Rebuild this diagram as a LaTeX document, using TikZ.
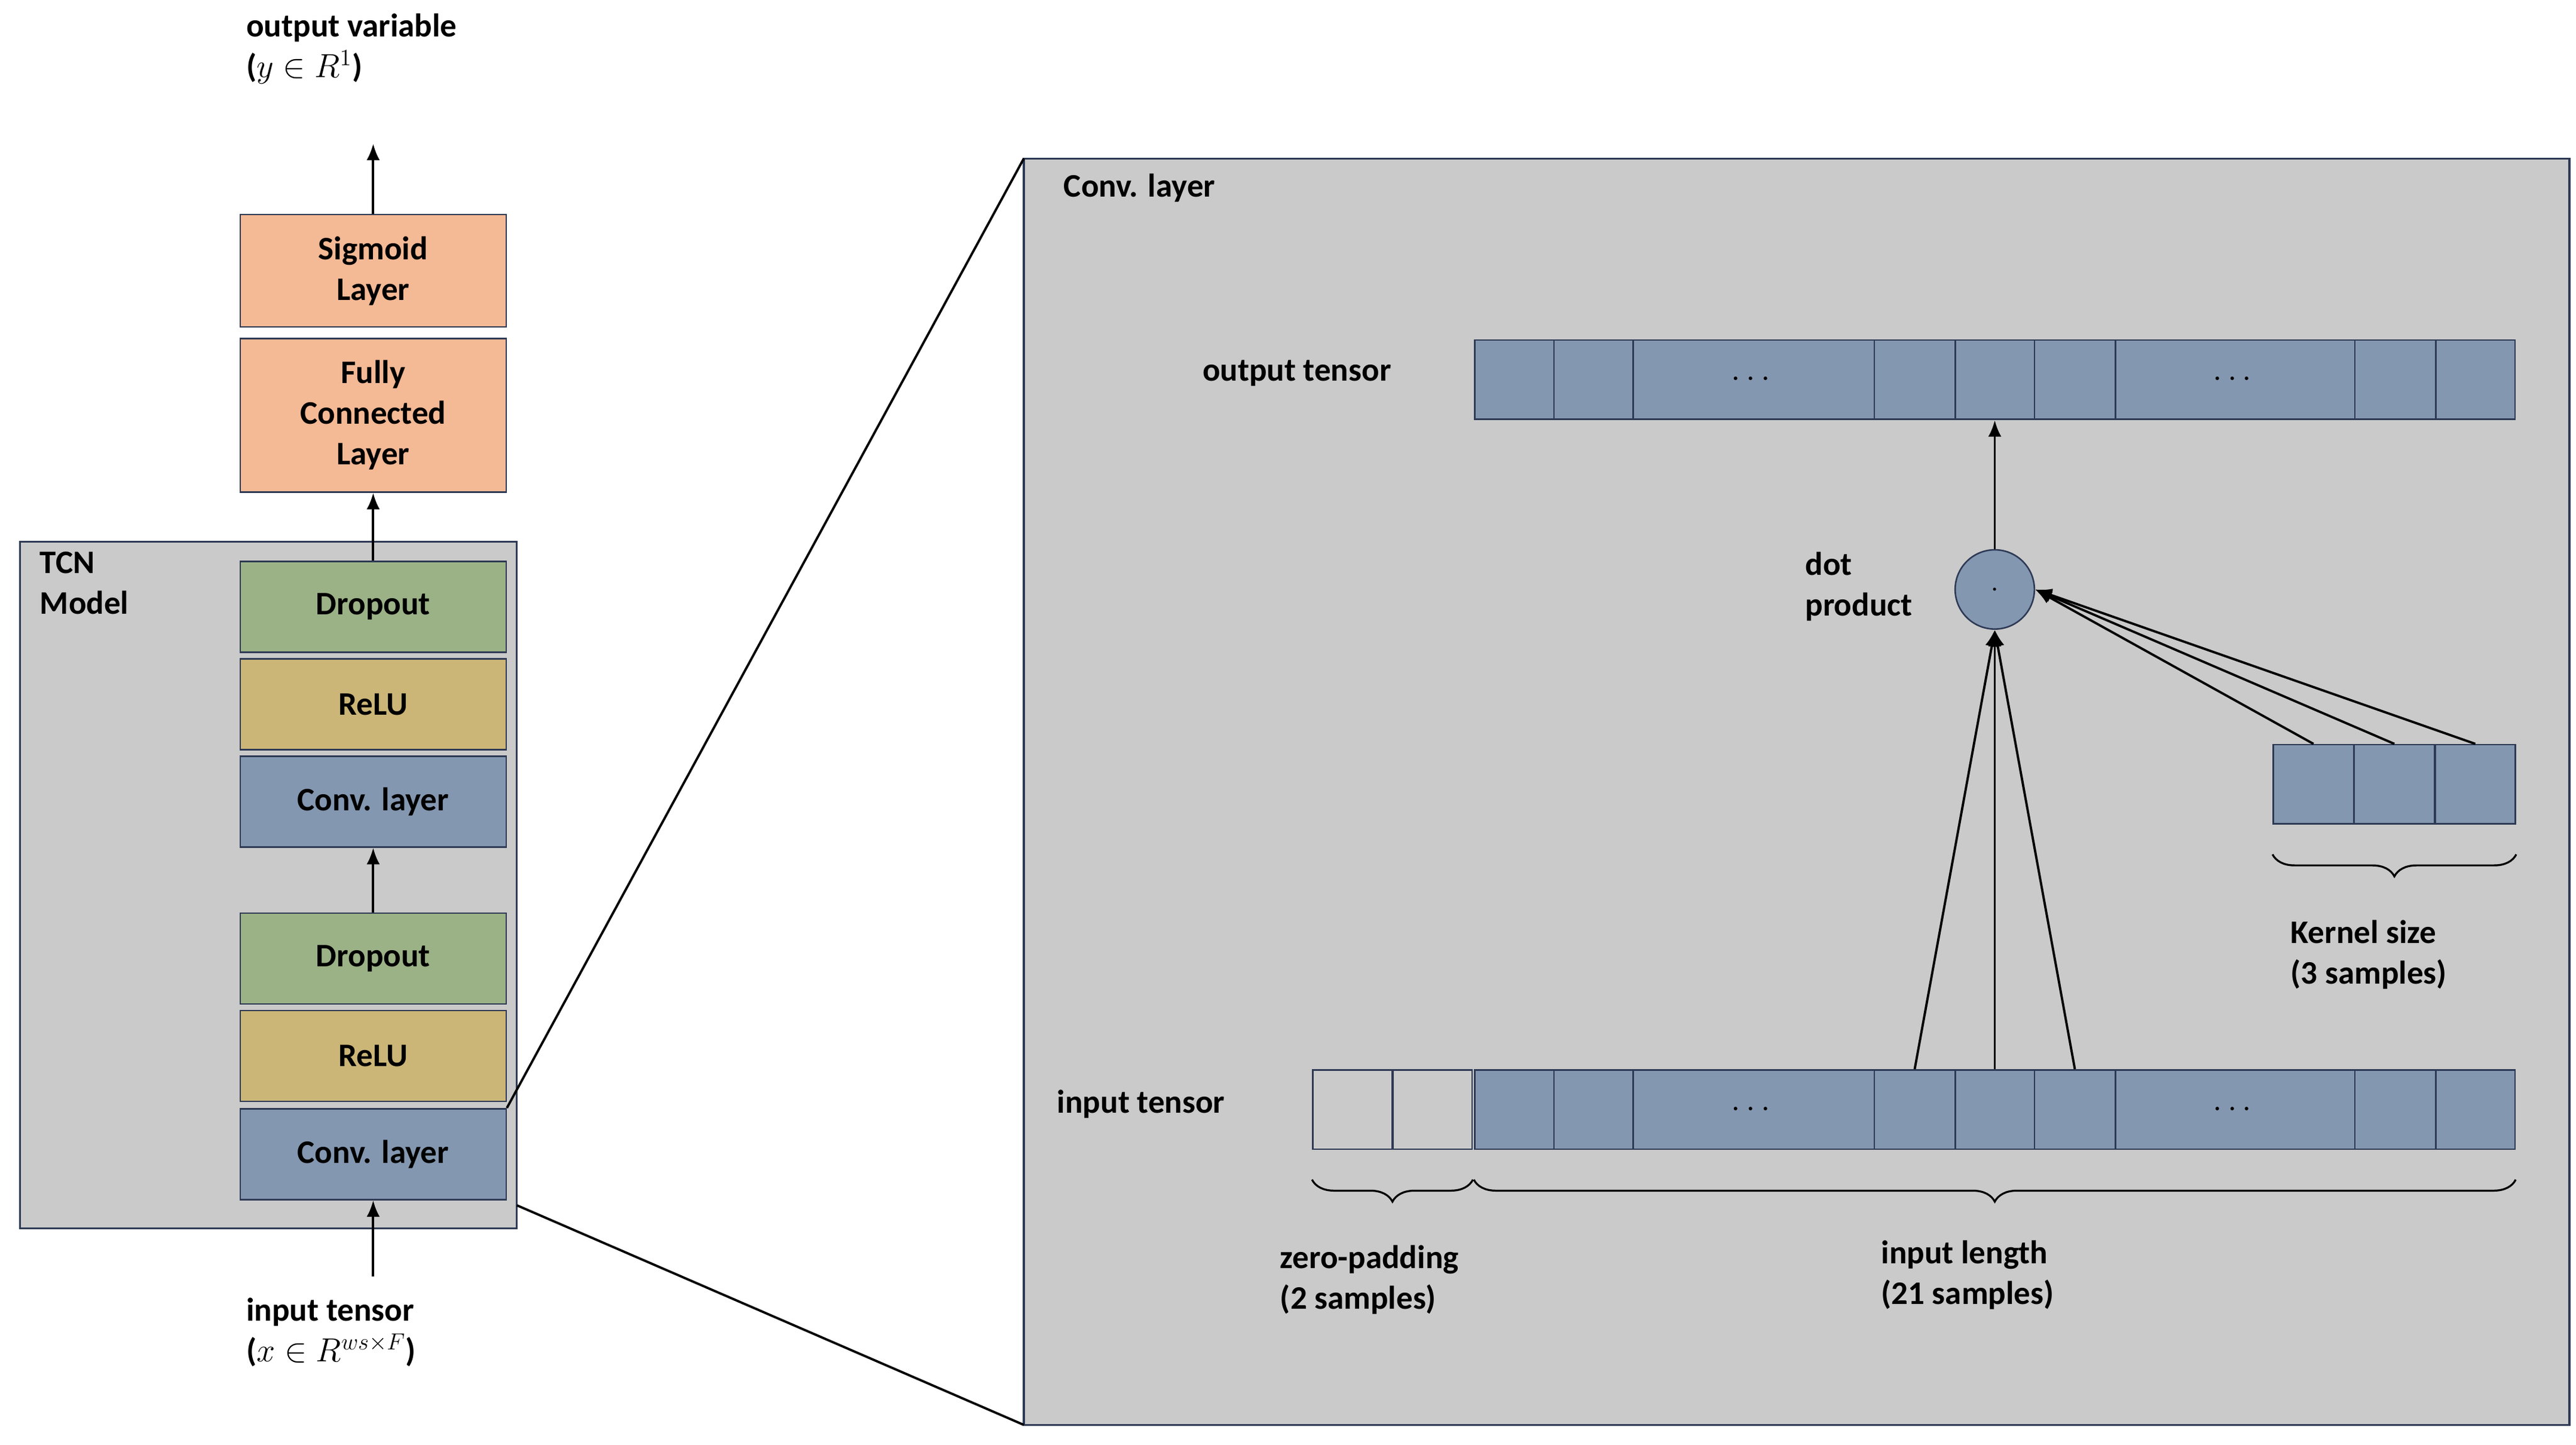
\documentclass[tikz,border=0pt]{standalone}
\usepackage{fontspec}
\setmainfont{Carlito}
\usepackage{amsmath}
\usetikzlibrary{positioning, arrows.meta, decorations.pathreplacing}
\definecolor{cellblue}{HTML}{8497B0}
\definecolor{panelgrey}{HTML}{CACACA}
\definecolor{sigorange}{HTML}{F4B995}
\definecolor{dropgreen}{HTML}{9BB186}
\definecolor{relugold}{HTML}{CBB677}
\definecolor{edge}{HTML}{2E3A55}
\tikzset{
  blk/.style={draw=edge, line width=0.8pt, minimum width=48.3mm, minimum height=16.5mm, align=center, font=\bfseries\fontsize{17}{21}\selectfont, inner sep=0pt},
  cell/.style={draw=edge, line width=0.8pt, fill=cellblue},
  lbl/.style={font=\bfseries\fontsize{17}{21}\selectfont, align=left, anchor=north west, inner sep=0pt},
  arr/.style={-{Latex[length=3mm,width=2.4mm]}, line width=1.2pt},
  brc/.style={decorate, decoration={brace, mirror, amplitude=4mm}, line width=1pt}
}
\begin{document}
\begin{tikzpicture}[x=0.3mm, y=-0.3mm]
\useasboundingbox (0,0) rectangle (1560,875);
% left column
\draw[edge, line width=1pt, fill=panelgrey] (12,328) rectangle (313,744);
\node[lbl] at (24,334) {TCN\\Model};
\node (sig) [blk, fill=sigorange, minimum height=20.4mm] at (226,164) {Sigmoid\\Layer};
\node (fc) [blk, fill=sigorange, minimum height=27.9mm] at (226,251.5) {Fully\\Connected\\Layer};
\node (drop1) [blk, fill=dropgreen] at (226,367.5) {Dropout};
\node (relu1) [blk, fill=relugold] at (226,426.5) {ReLU};
\node (conv1) [blk, fill=cellblue] at (226,485.5) {Conv. layer};
\node (drop2) [blk, fill=dropgreen] at (226,580.5) {Dropout};
\node (relu2) [blk, fill=relugold] at (226,639.5) {ReLU};
\node (conv2) [blk, fill=cellblue] at (226,699) {Conv. layer};
\node (outvar) [lbl] at (149,8) {output variable\\($y \in R^{1}$)};
\node (invar) [lbl] at (149,786) {input tensor\\($x \in R^{ws\times F}$)};
\coordinate (outtip) at (226,87);
\coordinate (intail) at (226,773);
\draw[arr] (sig.north) -- (outtip);
\draw[arr] (drop1.north) -- (fc.south);
\draw[arr] (drop2.north) -- (conv1.south);
\draw[arr] (intail) -- (conv2.south);
% right panel
\draw[edge, line width=1pt, fill=panelgrey] (620,96) rectangle (1556,863);
\draw[line width=1.2pt] (conv2.north east) -- (620,96);
\draw[line width=1.2pt] (313,730) -- (620,863);
\node[lbl] at (644,105) {Conv. layer};
\node[lbl] at (728,218) {output tensor};
\node[lbl] at (640,660) {input tensor};
% tensors
\foreach \row/\ya/\yb in {o/206/254, i/648/696} {
  \foreach \n/\xa/\xb in {1/893/941, 2/941/989, 3/989/1135, 4/1135/1184, 5/1184/1232, 6/1232/1281, 7/1281/1426, 8/1426/1475, 9/1475/1523}
    \node (\row\n) [cell, minimum width={(\xb-\xa)*0.3mm}, minimum height=14.4mm, inner sep=0pt] at ({(\xa+\xb)/2},{(\ya+\yb)/2}) {};
}
\foreach \n/\xa/\xb in {a/795/843, b/843/892}
  \node (z\n) [draw=edge, line width=0.8pt, fill=panelgrey, minimum width=14.4mm, minimum height=14.4mm, inner sep=0pt] at ({(\xa+\xb)/2},672) {};
\foreach \c in {o3, o7, i3, i7} \node[font=\fontsize{17}{21}\selectfont] at (\c) {$\cdots$};
% kernel
\foreach \n/\xa in {1/1377, 2/1426, 3/1475}
  \node (k\n) [cell, minimum width=14.6mm, minimum height=14.4mm, inner sep=0pt] at ({\xa+24},475) {};
% dot product
\node (dot) [circle, draw=edge, line width=0.8pt, fill=cellblue, minimum size=14.4mm, inner sep=0pt] at (1208,357) {$\boldsymbol{\cdot}$};
\node[lbl] at (1093,334) {dot\\product};
\draw[arr] (dot.north) -- (o5.south);
\foreach \c in {i4, i5, i6} \draw[arr] (\c.north) -- (dot.south);
\foreach \c in {k1, k2, k3} \draw[arr] (\c.north) -- (dot.east);
% braces
\draw[brc] (za.south west) ++(0,18) -- ([yshift=-18*0.3mm]zb.south east);
\draw[brc] ([yshift=-18*0.3mm]i1.south west) -- ([yshift=-18*0.3mm]i9.south east);
\draw[brc] ([yshift=-18*0.3mm]k1.south west) -- ([yshift=-18*0.3mm]k3.south east);
\node[lbl] at (775,754) {zero-padding\\(2 samples)};
\node[lbl] at (1139,751) {input length\\(21 samples)};
\node[lbl] at (1387,557) {Kernel size\\(3 samples)};
\end{tikzpicture}
\end{document}
